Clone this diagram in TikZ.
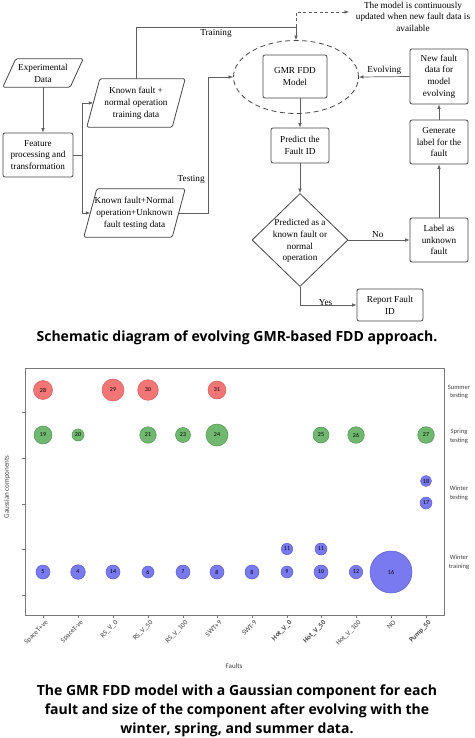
\documentclass[tikz,border=0pt]{standalone}
\usepackage{fontspec}
\setmainfont{Liberation Serif}
\newfontfamily\capfont{Open Sans}
\newfontfamily\chartfont{Carlito}
\usetikzlibrary{arrows.meta,shapes.geometric,calc}
\definecolor{boxc}{RGB}{70,70,70}
\definecolor{linec}{RGB}{95,95,95}
\definecolor{redf}{RGB}{243,118,118}
\definecolor{rede}{RGB}{222,92,92}
\definecolor{greenf}{RGB}{112,184,112}
\definecolor{greene}{RGB}{82,150,82}
\definecolor{bluef}{RGB}{122,122,240}
\definecolor{bluee}{RGB}{92,92,212}
\definecolor{framec}{RGB}{120,120,120}
\newcommand\flowfont{\fontsize{9.2}{11.8}\selectfont}
\newcommand\numfont{\chartfont\fontsize{6}{6}\selectfont}
\newcommand\axfont{\chartfont\fontsize{6.5}{8.5}\selectfont}
\newcommand\tickfont{\chartfont\fontsize{7}{8}\selectfont}
\tikzset{
  box/.style={draw=boxc, rounded corners=2pt, line width=0.8pt, align=center, font=\flowfont, inner sep=1pt},
  ptext/.style={align=center, font=\flowfont, inner sep=1pt},
  pshape/.style={draw=boxc, rounded corners=1.5pt, line width=0.8pt},
  conn/.style={draw=linec, line width=0.7pt},
  arr/.style={conn, -{Latex[length=4.5pt,width=3.6pt]}},
  lbl/.style={font=\flowfont, inner sep=1pt},
  capstyle/.style={font=\capfont\bfseries\fontsize{14}{19}\selectfont, align=center, inner sep=0pt},
  bubr/.style={circle, inner sep=0pt, fill=redf, draw=rede, line width=0.5pt, font=\numfont},
  bubg/.style={circle, inner sep=0pt, fill=greenf, draw=greene, line width=0.5pt, font=\numfont},
  bubb/.style={circle, inner sep=0pt, fill=bluef, draw=bluee, line width=0.5pt, font=\numfont},
  axlbl/.style={font=\axfont, text=black!75, inner sep=1pt, align=center},
  ticklbl/.style={font=\tickfont, text=black!75, inner sep=0.5pt, rotate=45, anchor=north east},
  tickline/.style={draw=framec, line width=0.6pt}
}
\newcommand\paranode[7]{%
  \node[ptext, minimum width=#4pt, minimum height=#5pt] (#1) at (#2,#3) {#7};
  \draw[pshape] ($(#1.north west)+(#6/2,0)$) -- ($(#1.north east)+(#6/2,0)$) --
     ($(#1.south east)-(#6/2,0)$) -- ($(#1.south west)-(#6/2,0)$) -- cycle;
}
\begin{document}
\begin{tikzpicture}[x=1pt,y=-1pt]
\useasboundingbox (0,0) rectangle (474,738);
\fill[white] (0,0) rectangle (474,738);

% ---------- flowchart ----------
\paranode{exp}{43}{73}{67}{28}{13}{Experimental\\Data}
\node[box, minimum width=70pt, minimum height=44pt] (feat) at (38,155) {Feature\\processing and\\transformation};
\paranode{train}{136}{103}{85}{48}{13}{Known fault +\\normal operation\\training data}
\paranode{test}{134.5}{213}{88}{48}{13}{Known fault+Normal\\operation+Unknown\\fault testing data}

\node[draw=boxc, dash pattern=on 5pt off 3.5pt, line width=0.8pt, ellipse, minimum width=125pt, minimum height=73pt, inner sep=0pt] (ell) at (296,77) {};
\node[box, minimum width=64pt, minimum height=43pt] (gmr) at (295,76.5) {GMR FDD\\Model};
\node[box, minimum width=58pt, minimum height=35pt] (pred) at (300,145.5) {Predict the\\Fault ID};
\node[draw=boxc, line width=0.8pt, diamond, minimum width=96pt, minimum height=93pt, inner sep=0pt] (dec) at (300,240) {};
\node[ptext] (dectext) at (300,241) {Predicted as a\\known fault or\\normal\\operation};
\node[box, minimum width=58pt, minimum height=44pt] (lab) at (439,240) {Label as\\unknown\\fault};
\node[box, minimum width=58pt, minimum height=44pt] (gen) at (439,142) {Generate\\label for the\\fault};
\node[box, minimum width=58pt, minimum height=55pt] (newf) at (439,76.5) {New fault\\data for\\model\\evolving};
\node[box, minimum width=66pt, minimum height=32pt] (rep) at (390,305) {Report Fault\\ID};
\node[ptext, anchor=north] (note) at (413,0.5) {The model is continuously\\updated when new fault data is\\available};

\coordinate (split) at (82,155);
\coordinate (trtop) at (296,27);
\coordinate (dtop) at (296,12);
\coordinate (dend) at (349,12);
\coordinate (tcorner) at (208,213);
\coordinate (ybend) at (300,305);

\draw[arr] (exp.south) -- (exp.south |- feat.north);
\draw[conn] (feat.east) -- (split);
\draw[arr] (split) |- (train.west);
\draw[arr] (split) |- (test.west);
\draw[arr] (train.north) |- (trtop) node[lbl, pos=0.75, below=1pt] (trl) {Training} -- (ell.north);
\draw[arr, dash pattern=on 3pt off 2.5pt] (trtop) -- (dtop) -- (dend);
\draw[arr] (test.east) -- (tcorner) node[lbl, pos=1, anchor=south east, xshift=-2pt, yshift=28pt] (tsl) {Testing} |- (ell.west);
\draw[arr] (pred.north |- gmr.south) -- (pred.north);
\draw[arr] (pred.south) -- (dec.north);
\draw[arr] (dec.east) -- node[lbl, above=1pt, pos=0.48] (nol) {No} (lab.west);
\draw[arr] (lab.north) -- (gen.south);
\draw[arr] (gen.north) -- (newf.south);
\draw[arr] (newf.west) -- node[lbl, above=0.5pt] (evl) {Evolving} (ell.east);
\draw[arr] (dec.south) -- (ybend) -- node[lbl, above=-2pt, pos=0.45] (yesl) {Yes} (rep.west);

\node[capstyle] (cap1) at (237,338) {Schematic diagram of evolving GMR-based FDD approach.};

% ---------- bubble chart ----------
\draw[framec, line width=0.8pt] (25,368) rectangle (444,615);
\foreach \y in {412,458,504,549,595} \draw[tickline] (22,\y) -- (25,\y);
\foreach \x in {43,78,113,148,183,217,252,287,321,356,391,426} \draw[tickline] (\x,615) -- (\x,618);

% summer
\node[bubr, minimum size=19pt] (b28) at (43,390) {28};
\node[bubr, minimum size=22pt] (b29) at (113,390) {29};
\node[bubr, minimum size=20.6pt] (b30) at (148,390) {30};
\node[bubr, minimum size=18pt] (b31) at (217,390) {31};
% spring
\node[bubg, minimum size=18pt] (b19) at (43,435) {19};
\node[bubg, minimum size=12pt] (b20) at (78,435) {20};
\node[bubg, minimum size=16.5pt] (b21) at (148,435) {21};
\node[bubg, minimum size=15pt] (b23) at (183,435) {23};
\node[bubg, minimum size=22pt] (b24) at (217,435) {24};
\node[bubg, minimum size=16pt] (b25) at (321,435) {25};
\node[bubg, minimum size=16.6pt] (b26) at (356,435) {26};
\node[bubg, minimum size=16.6pt] (b27) at (426,435) {27};
% winter testing
\node[bubb, minimum size=11pt] (b18) at (426,481) {18};
\node[bubb, minimum size=12pt] (b17) at (426,503) {17};
\node[bubb, minimum size=11.4pt] (b11a) at (287,549) {11};
\node[bubb, minimum size=12pt] (b11b) at (321,549) {11};
% winter training
\node[bubb, minimum size=14pt] (b5) at (43,572) {5};
\node[bubb, minimum size=14.6pt] (b4) at (78,572) {4};
\node[bubb, minimum size=14pt] (b14) at (113,572) {14};
\node[bubb, minimum size=12pt] (b6) at (148,572) {6};
\node[bubb, minimum size=14pt] (b7) at (183,572) {7};
\node[bubb, minimum size=14pt] (b8a) at (217,572) {8};
\node[bubb, minimum size=14pt] (b8b) at (252,572) {8};
\node[bubb, minimum size=12pt] (b9) at (287,572) {9};
\node[bubb, minimum size=14pt] (b10) at (321,572) {10};
\node[bubb, minimum size=13.4pt] (b12) at (356,572) {12};
\node[bubb, minimum size=42pt] (b16) at (391,572) {16};

% right labels
\node[axlbl] (rsum) at (459,392) {Summer\\testing};
\node[axlbl] (rspr) at (459,436.5) {Spring\\testing};
\node[axlbl] (rwte) at (459,493.5) {Winter\\testing};
\node[axlbl] (rwtr) at (459,562.5) {Winter\\training};

% x tick labels
\foreach \x/\t [count=\i] in {43/SpaceT+ve, 78/SpaceT-ve, 113/RS\_V\_0, 148/RS\_V\_50, 183/RS\_V\_100, 217/SWT+9, 252/SWT-9, 287/\textbf{Hot\_V\_0}, 321/\textbf{Hot\_V\_50}, 356/Hot\_V\_100, 391/NO, 426/\textbf{Pump\_50}}
  \node[ticklbl] (xt\i) at (\x+2,619) {\t};

\node[axlbl, font=\chartfont\fontsize{7}{8}\selectfont] (xlab) at (234,666) {Faults};
\node[axlbl, rotate=90, font=\chartfont\fontsize{7}{8}\selectfont] (ylab) at (7,487) {Gaussian components};

\node[capstyle, anchor=south] (cap2) at (237,737) {The GMR FDD model with a Gaussian component for each\\fault and size of the component after evolving with the\\winter, spring, and summer data.};
\end{tikzpicture}
\end{document}
